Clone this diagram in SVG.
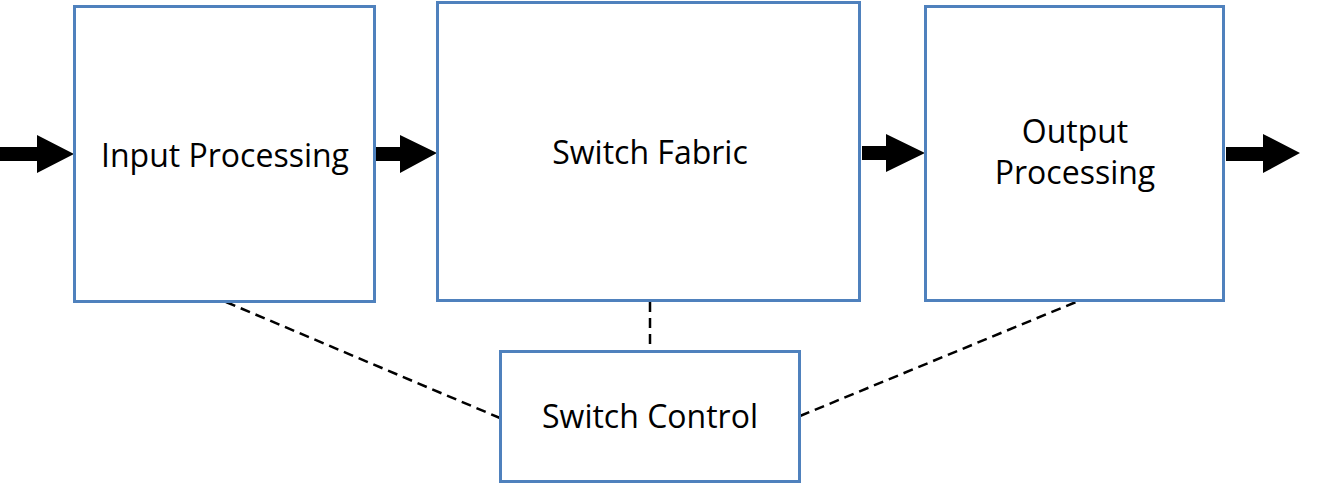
<svg xmlns="http://www.w3.org/2000/svg" width="1340" height="486" viewBox="0 0 1340 486">
<style>
.box{fill:#fff;stroke:#4F81BD;stroke-width:3}
.lbl{font-family:"Open Sans","Noto Sans",sans-serif;font-size:32px;fill:#000;text-anchor:middle}
.dash{stroke:#000;stroke-width:2.5;stroke-dasharray:10,6;fill:none}
.arr{fill:#000}
</style>
<rect width="1340" height="486" fill="#fff"/>
<g id="connectors">
<polygon class="arr" points="0,147 37,147 37,135 74,154 37,173 37,161 0,161"/>
<polygon class="arr" points="376,147 400,147 400,135 437,153 400,173 400,161 376,161"/>
<polygon class="arr" points="862,146 886,146 886,134 925,153 886,172 886,160 862,160"/>
<polygon class="arr" points="1226,147 1263,147 1263,134 1300,153 1263,173 1263,161 1226,161"/>
<line class="dash" x1="226" y1="302" x2="500" y2="418"/>
<line class="dash" x1="650" y1="302" x2="650" y2="351"/>
<line class="dash" x1="800" y1="416" x2="1076" y2="302"/>
</g>
<g id="input-processing">
<rect class="box" x="74.5" y="6.5" width="300" height="295"/>
<text class="lbl" x="225" y="167">Input Processing</text>
</g>
<g id="switch-fabric">
<rect class="box" x="437.5" y="2.5" width="422" height="298"/>
<text class="lbl" x="650" y="164">Switch Fabric</text>
</g>
<g id="output-processing">
<rect class="box" x="925.5" y="6.5" width="298" height="294"/>
<text class="lbl" x="1075" y="143">Output</text>
<text class="lbl" x="1075" y="184">Processing</text>
</g>
<g id="switch-control">
<rect class="box" x="500.5" y="351.5" width="299" height="130"/>
<text class="lbl" x="650" y="428">Switch Control</text>
</g>
</svg>
